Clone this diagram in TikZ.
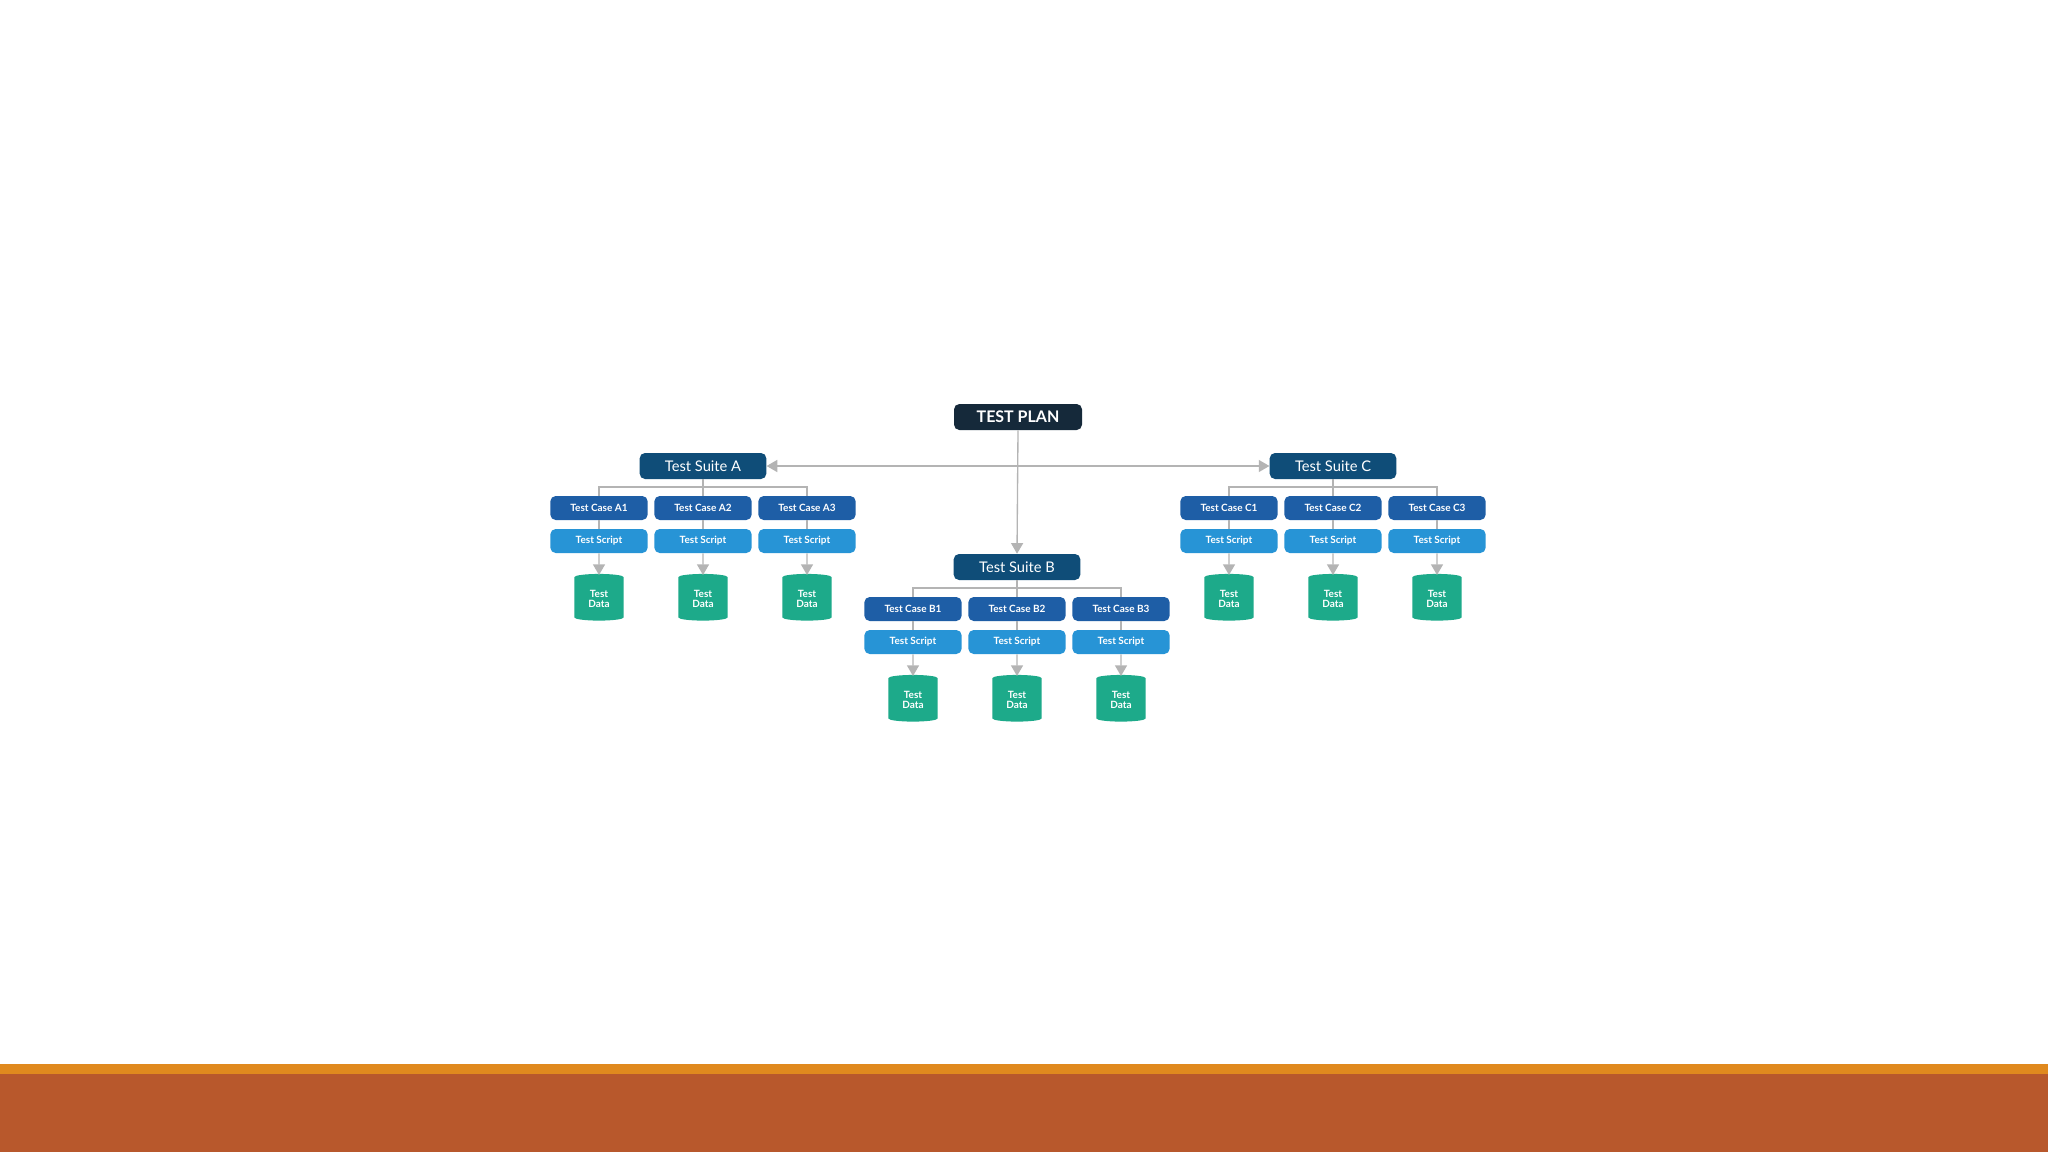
\documentclass[tikz,border=0pt]{standalone}
\usepackage{fontspec}
\setmainfont{Lato}
\usetikzlibrary{shapes.geometric,arrows.meta}
\definecolor{plancol}{HTML}{15293A}
\definecolor{suitecol}{HTML}{0F4D78}
\definecolor{casecol}{HTML}{1E5EA6}
\definecolor{scriptcol}{HTML}{2794D6}
\definecolor{datacol}{HTML}{1DAA8A}
\definecolor{linecol}{HTML}{B4B4B4}
\definecolor{orangebar}{HTML}{E0891E}
\definecolor{brownbar}{HTML}{B8582C}
\tikzset{
 planbox/.style={rounded corners=4pt,fill=plancol,text=white,font=\bfseries\fontsize{12}{14}\selectfont,minimum width=96pt,minimum height=19.5pt,inner sep=0pt},
 suitebox/.style={rounded corners=4pt,fill=suitecol,text=white,font=\fontsize{11}{13}\selectfont,minimum width=95pt,minimum height=19.5pt,inner sep=0pt},
 casebox/.style={rounded corners=4pt,fill=casecol,text=white,font=\bfseries\fontsize{7.5}{9}\selectfont,minimum width=73pt,minimum height=18pt,inner sep=0pt},
 scriptbox/.style={rounded corners=4pt,fill=scriptcol,text=white,font=\bfseries\fontsize{7.5}{9}\selectfont,minimum width=73pt,minimum height=18pt,inner sep=0pt},
 databox/.style={cylinder,shape border rotate=90,aspect=0.3,fill=datacol,text=white,font=\bfseries\fontsize{7.5}{8}\selectfont,minimum width=37pt,minimum height=35pt,inner sep=0pt,align=center},
 conn/.style={draw=linecol,line width=1pt},
 arr/.style={draw=linecol,line width=1pt,-{Triangle[width=9pt,length=8pt]}},
}
\begin{document}
\begin{tikzpicture}[x=0.75pt,y=-0.75pt]
\useasboundingbox (0,0) rectangle (2048,1152);
\fill[white] (0,0) rectangle (2048,1152);
\fill[orangebar] (0,1064) rectangle (2048,1074);
\fill[brownbar] (0,1074) rectangle (2048,1152);

\node[planbox] (plan) at (1018,417) {TEST PLAN};
\node[suitebox] (sa) at (703,466) {Test Suite A};
\node[suitebox] (sb) at (1017,567) {Test Suite B};
\node[suitebox] (sc) at (1333,466) {Test Suite C};
\coordinate (hub) at (1018,466);

\draw[arr] (plan.south) -- (sb.north);
\draw[arr] (hub) -- (sa.east);
\draw[arr] (hub) -- (sc.west);

\foreach \s/\sx/\cy/\L in {sa/703/508/A, sb/1017/609/B, sc/1333/508/C}{
  \pgfmathsetmacro{\sy}{\cy+33}
  \pgfmathsetmacro{\dy}{\cy+91}
  \pgfmathsetmacro{\by}{\cy-21}
  \foreach \i/\dx in {1/-104,2/0,3/104}{
    \pgfmathsetmacro{\xx}{\sx+\dx}
    \node[casebox] (c\L\i) at (\xx,\cy) {Test Case \L\i};
    \node[scriptbox] (s\L\i) at (\xx,\sy) {Test Script};
    \node[databox] (d\L\i) at (\xx,\dy) {Test\\[-1pt]Data};
    \coordinate (b\L\i) at (\xx,\by);
    \draw[conn] (c\L\i.south) -- (s\L\i.north);
    \draw[arr] (s\L\i.south) -- ([yshift=-1pt]d\L\i.north);
  }
  \draw[conn] (c\L1.north) -- (b\L1) -- (b\L3) -- (c\L3.north);
  \draw[conn] (\s.south) -- (c\L2.north);
}
\end{tikzpicture}
\end{document}
